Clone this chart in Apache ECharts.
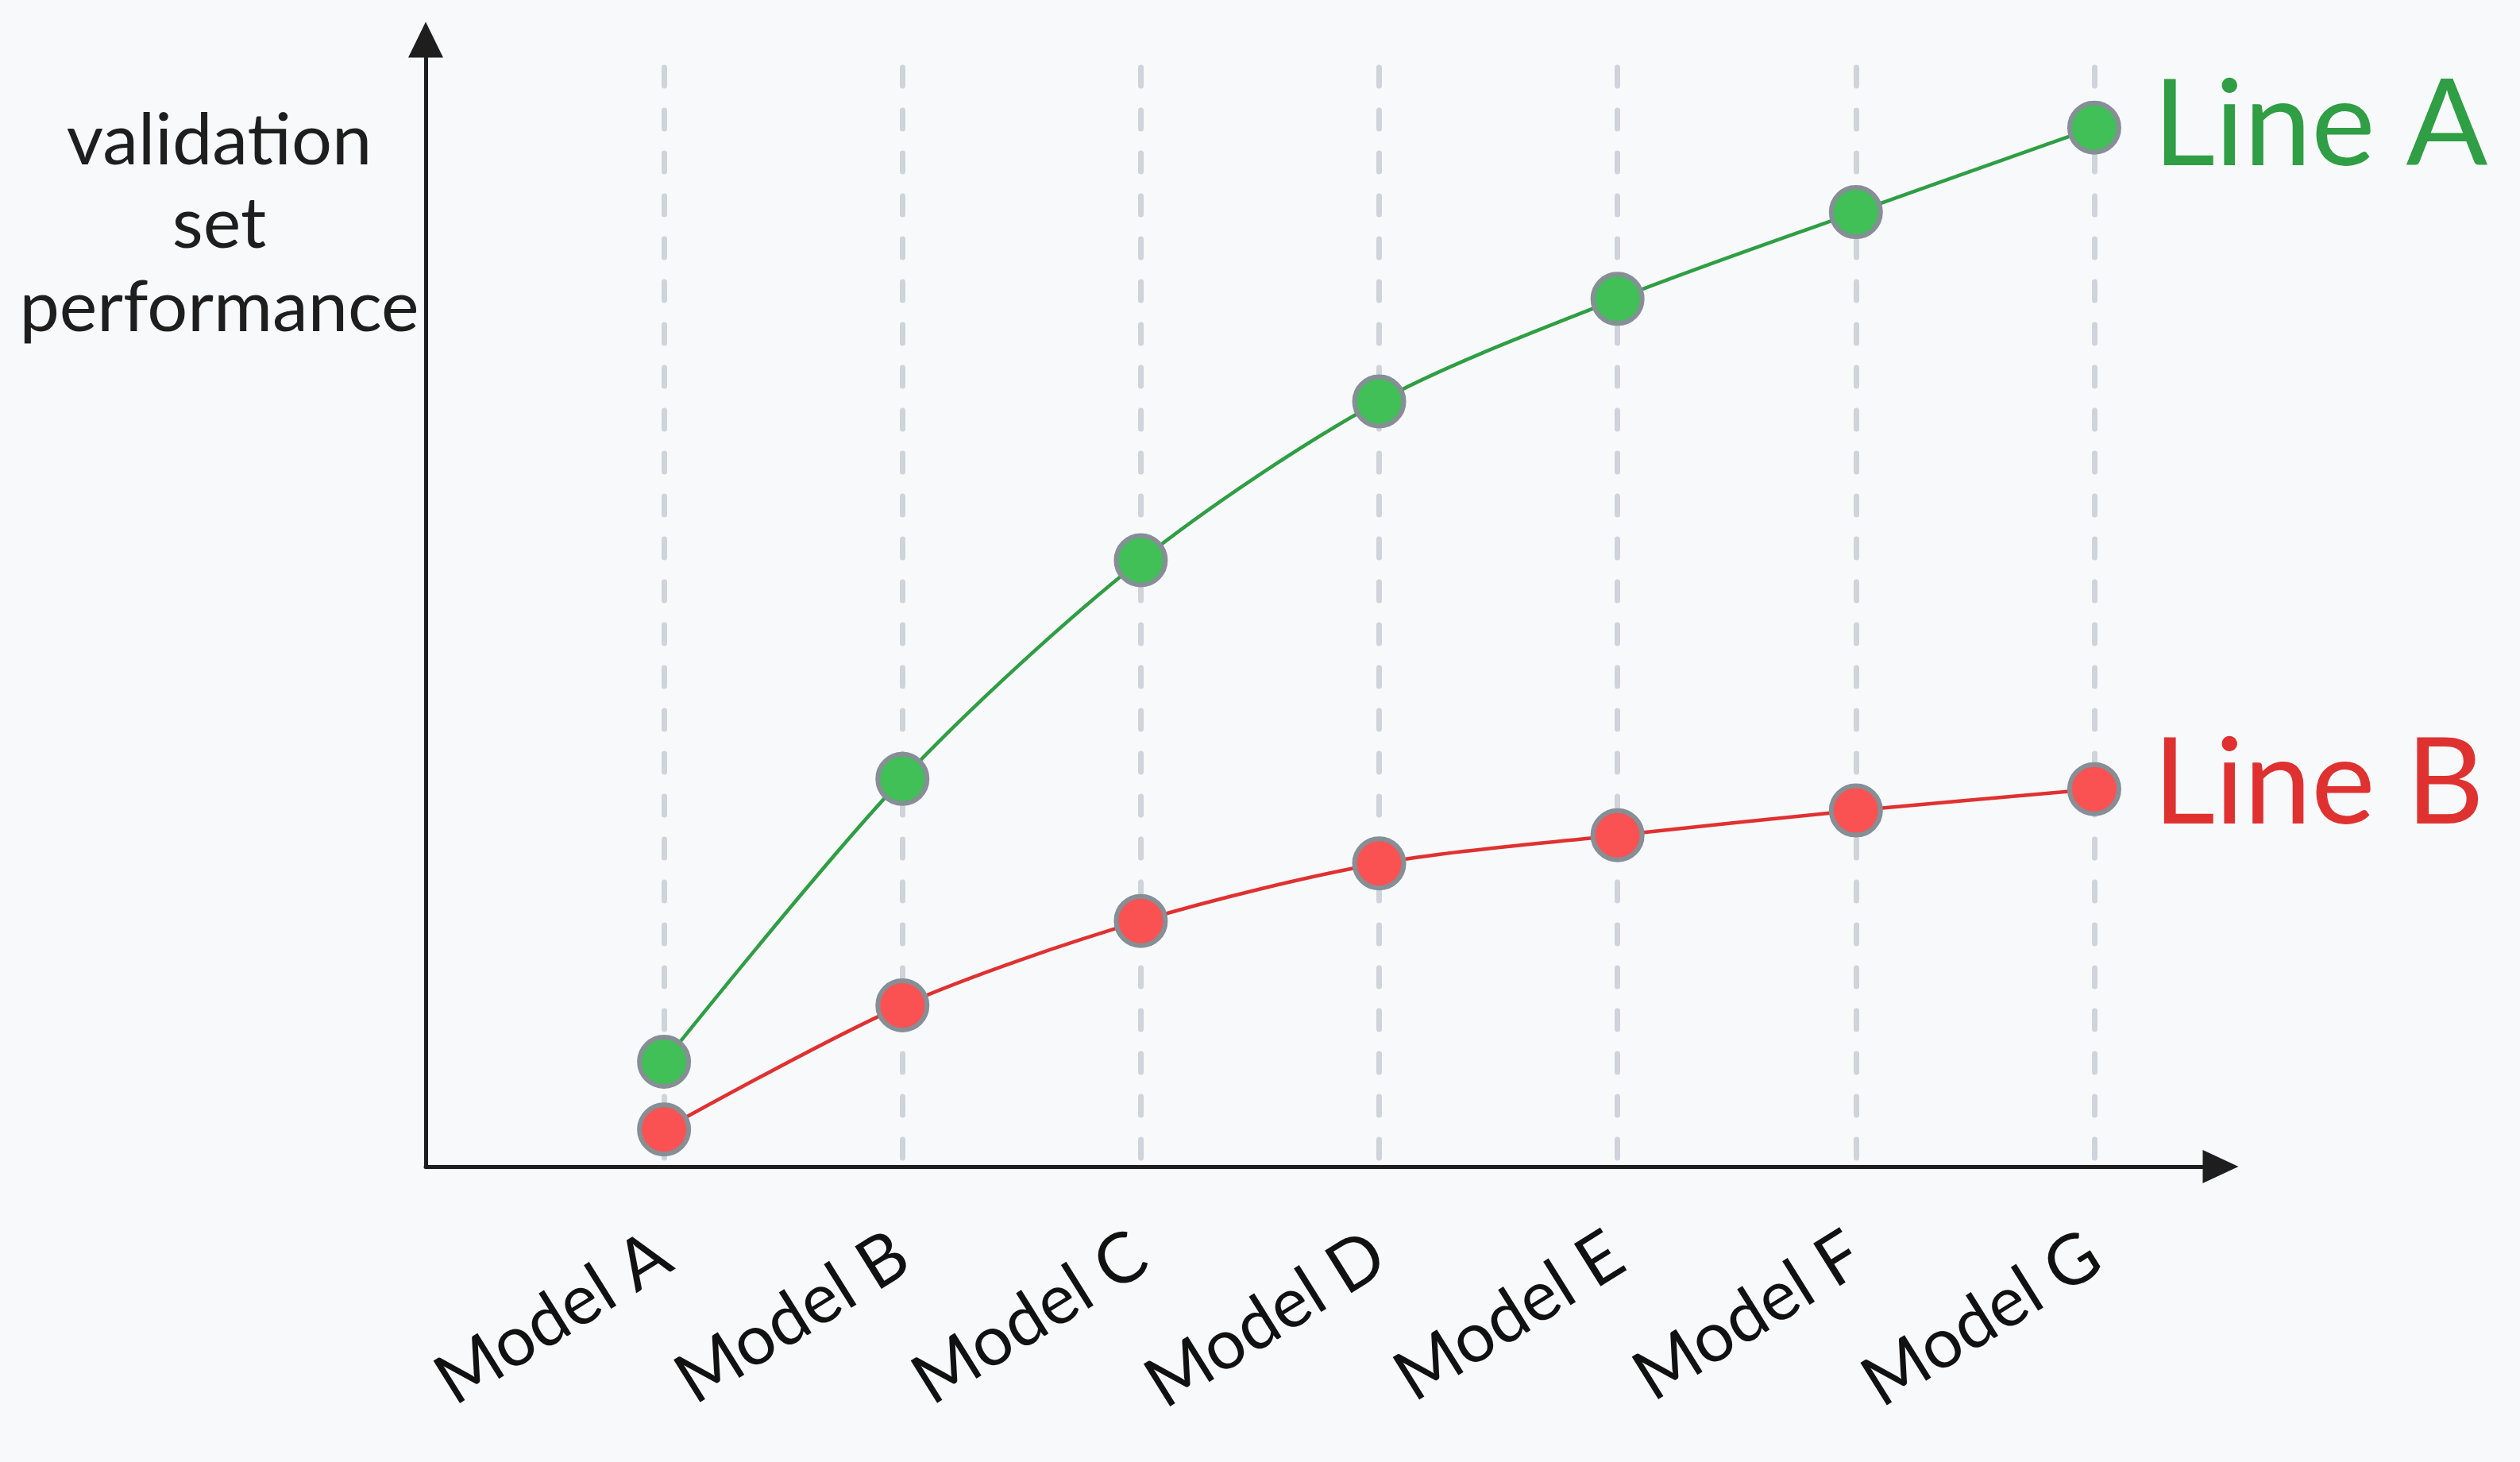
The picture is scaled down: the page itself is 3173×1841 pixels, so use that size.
<!DOCTYPE html>
<html>
<head>
<meta charset="utf-8">
<script src="https://cdn.jsdelivr.net/npm/echarts@6/dist/echarts.min.js"></script>
<style>
html,body{margin:0;padding:0;background:#f8f9fa;}
#chart{width:3173px;height:1841px;}
</style>
</head>
<body>
<div id="chart"></div>
<script>
const categories = ['Model A', 'Model B', 'Model C', 'Model D', 'Model E', 'Model F', 'Model G'];
const lineA = [9.3, 34.4, 53.8, 67.9, 77.0, 84.7, 92.2];
const lineB = [3.3, 14.3, 21.8, 26.9, 29.4, 31.6, 33.5];
const seriesNames = ['Line A', 'Line B'];
const yTitle = 'validation\nset\nperformance';

const FONT = 'Lato';
const xMax = 7.53;

const chart = echarts.init(document.getElementById('chart'), null, {renderer: 'canvas'});

function pairs(arr) { return arr.map((v, i) => [i + 1, v]); }

const option = {
  backgroundColor: '#f8f9fa',
  animation: false,
  title: {
    text: yTitle,
    left: 271,
    top: 120,
    textAlign: 'center',
    textStyle: {
      fontFamily: FONT,
      fontSize: 90,
      fontWeight: 'normal',
      color: '#1e1e1e',
      lineHeight: 105
    }
  },
  grid: [
    {left: 536, right: 377, top: 50, bottom: 372},
    {left: 536, right: 377, top: 85, bottom: 372}
  ],
  xAxis: [
    {
      type: 'value', gridIndex: 0, min: 0, max: xMax, interval: 1,
      axisLine: {show: true, onZero: false, symbol: ['none', 'triangle'], symbolSize: [42, 45],
        lineStyle: {color: '#1e1e1e', width: 5}},
      axisTick: {show: false}, axisLabel: {show: false}, splitLine: {show: false}
    },
    {
      type: 'value', gridIndex: 1, min: 0, max: xMax, interval: 1,
      axisLine: {show: false}, axisTick: {show: false},
      axisLabel: {
        show: true, rotate: 32, margin: 104,
        fontFamily: FONT, fontSize: 88, color: '#111',
        formatter: function (v) { return (Number.isInteger(v) && v >= 1 && v <= categories.length) ? categories[v - 1] : ''; }
      },
      splitLine: {
        show: true, showMinLine: false, showMaxLine: false,
        lineStyle: {color: '#ced4da', width: 7, type: [23, 31], cap: 'round'}
      }
    }
  ],
  yAxis: [
    {
      type: 'value', gridIndex: 0, min: 0, max: 100,
      axisLine: {show: true, onZero: false, symbol: ['none', 'triangle'], symbolSize: [44, 45],
        lineStyle: {color: '#1e1e1e', width: 5}},
      axisTick: {show: false}, axisLabel: {show: false}, splitLine: {show: false}
    },
    {type: 'value', gridIndex: 1, show: false, min: 0, max: 100, splitLine: {show: false}}
  ],
  series: [
    {
      name: seriesNames[0], type: 'line', xAxisIndex: 0, yAxisIndex: 0,
      data: pairs(lineA), smooth: 0.3,
      symbol: 'circle', symbolSize: 62,
      itemStyle: {color: '#40c057', borderColor: '#868e96', borderWidth: 6},
      lineStyle: {color: '#2f9e44', width: 4.5},
      endLabel: {show: true, formatter: '{a}', distance: 74, offset: [0, -2],
        fontFamily: FONT, fontSize: 152, color: '#2f9e44'},
      z: 3
    },
    {
      name: seriesNames[1], type: 'line', xAxisIndex: 0, yAxisIndex: 0,
      data: pairs(lineB), smooth: 0.3,
      symbol: 'circle', symbolSize: 62,
      itemStyle: {color: '#fa5252', borderColor: '#868e96', borderWidth: 6},
      lineStyle: {color: '#e03131', width: 4.5},
      endLabel: {show: true, formatter: '{a}', distance: 74, offset: [0, -6],
        fontFamily: FONT, fontSize: 152, color: '#e03131'},
      z: 3
    }
  ]
};
chart.setOption(option);
</script>
</body>
</html>
